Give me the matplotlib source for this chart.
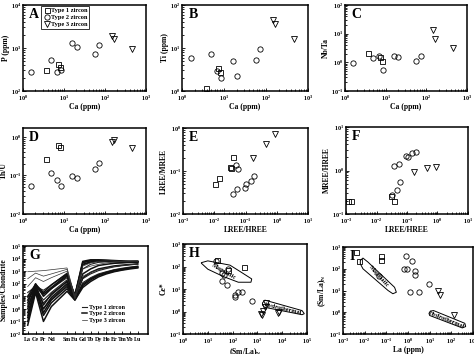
import matplotlib
matplotlib.use('Agg')
import matplotlib.pyplot as plt
from matplotlib.patches import Polygon
from matplotlib.ticker import LogLocator

plt.rcParams['font.family'] = ['Liberation Serif', 'DejaVu Serif']
plt.rcParams['mathtext.fontset'] = 'stix'
plt.rcParams['font.weight'] = 'bold'
plt.rcParams['axes.labelweight'] = 'bold'

# --- data ---
# A-D: Ca (ppm) against P, Ti, Nb/Ta, Th/U
ca_t1 = [3.7, 7.2, 8.0]
ca_t2 = [1.6, 4.8, 6.8, 8.6, 16, 20.5, 57, 73]
ca_t3 = [145, 162, 465]

p_t1 = [316, 427, 357]
p_t2 = [280, 540, 280, 316, 1300, 1035, 725, 1150]
p_t3 = [1930, 1620, 965]

ti_t1 = [1.2, 3.5, 2.7]
ti_t2 = [5.9, 7.3, 2.9, 2.0, 5.0, 2.2, 5.3, 9.6]
ti_t3 = [46, 37, 16.6]

nbta_t1 = [2.2, 1.5, 1.1]
nbta_t2 = [0.95, 1.4, 1.7, 0.55, 1.6, 1.5, 1.15, 1.6]
nbta_t3 = [13.8, 6.3, 3.1]

thu_t1 = [0.26, 0.61, 0.55]
thu_t2 = [0.054, 0.117, 0.076, 0.054, 0.096, 0.085, 0.15, 0.21]
thu_t3 = [0.74, 0.85, 0.52]

# E: LREE/HREE vs LREE/MREE
e_lh_t1 = [0.0108, 0.0141, 0.032, 0.034, 0.040]
e_lm_t1 = [0.050, 0.069, 0.124, 0.12, 0.21]
e_lh_t2 = [0.040, 0.055, 0.049, 0.057, 0.093, 0.10, 0.155, 0.19]
e_lm_t2 = [0.029, 0.039, 0.14, 0.11, 0.040, 0.050, 0.060, 0.075]
e_lh_t3 = [0.17, 0.46, 0.85]
e_lm_t3 = [0.20, 0.43, 0.74]

# F: LREE/HREE vs MREE/HREE
f_lh_t1 = [0.0012, 0.0015, 0.031, 0.038]
f_mh_t1 = [0.2, 0.2, 0.26, 0.2]
f_lh_t2 = [0.033, 0.048, 0.058, 0.038, 0.055, 0.096, 0.11, 0.15, 0.20]
f_mh_t2 = [0.27, 0.36, 0.55, 1.3, 1.43, 2.2, 2.0, 2.5, 2.6]
f_lh_t3 = [0.17, 0.46, 0.90]
f_mh_t3 = [0.9, 1.15, 1.23]

# G: chondrite-normalised REE patterns
ree_names = ['La', 'Ce', 'Pr', 'Nd', 'Sm', 'Eu', 'Gd', 'Tb', 'Dy', 'Ho', 'Er', 'Tm', 'Yb', 'Lu']
ree_z = [57, 58, 59, 60, 62, 63, 64, 65, 66, 67, 68, 69, 70, 71]
ree_t1 = [
    [2, 40, 5, 20, 200, 9, 1500, 3500, 5000, 5500, 5500, 5000, 5000, 5000],
    [8, 50, 15, 40, 300, 14, 3000, 5000, 6000, 6000, 5500, 5500, 5000, 5000],
    [0.3, 25, 1, 6, 80, 6, 120, 300, 600, 900, 1300, 1700, 2100, 2500],
    [20, 60, 30, 80, 700, 12, 4500, 6500, 7000, 6500, 6000, 5500, 5500, 5200],
    [1.5, 35, 3, 12, 150, 8, 250, 600, 1100, 1600, 2200, 2700, 3200, 3600],
]
ree_t2 = [
    [0.05, 20, 0.1, 1.5, 25, 5, 50, 150, 350, 600, 900, 1200, 1500, 1800],
    [0.2, 60, 0.5, 5, 60, 6, 90, 250, 500, 800, 1200, 1500, 1900, 2300],
    [1, 80, 2, 15, 150, 8, 600, 1500, 2800, 3500, 4200, 4500, 5000, 5500],
    [3, 100, 10, 40, 400, 10, 5000, 7000, 7500, 7000, 6500, 6000, 6000, 6000],
    [5, 70, 15, 50, 500, 12, 6000, 8000, 8000, 7500, 7000, 6500, 6000, 6000],
    [0.5, 40, 1, 8, 100, 7, 300, 800, 1500, 2000, 2600, 3000, 3400, 3800],
    [10, 90, 20, 80, 600, 9, 3500, 5500, 6500, 6500, 6000, 5800, 5500, 5500],
    [0.1, 30, 0.3, 3, 40, 5, 70, 200, 450, 700, 1000, 1300, 1700, 2000],
]
ree_t3 = [
    [900, 1000, 1100, 1300, 1800, 10, 1500, 2500, 3500, 4500, 5500, 6000, 6500, 7000],
    [250, 700, 400, 600, 1400, 8, 2500, 4500, 6000, 6500, 6500, 6000, 6000, 6000],
    [60, 300, 150, 300, 1000, 6, 400, 800, 1300, 1800, 2300, 2800, 3300, 3500],
]

# H: (Sm/La)N vs Ce*
h_sl_t1 = [24, 66, 295]
h_ce_t1 = [190, 71, 98]
h_sl_t2 = [22, 36, 46, 66, 36, 57, 124, 124, 170, 245, 590]
h_ce_t2 = [178, 50, 43, 76, 22, 14.5, 5.5, 4.3, 7.4, 7.4, 2.8]
h_sl_t3 = [1400, 1550, 1700, 2000, 2300, 6600, 7500]
h_ce_t3 = [0.8, 0.7, 1.1, 1.6, 2.3, 0.85, 1.0]
h_mag_x = [5.5, 10, 78, 200, 590, 550, 170, 42, 10, 5.5]
h_mag_y = [148, 178, 115, 60, 28, 20, 20, 36, 76, 140]
h_hyd_x = [1600, 2000, 63000, 78000, 63000, 1900, 1600]
h_hyd_y = [2.4, 3.2, 1.1, 0.8, 0.72, 1.55, 2.0]

# I: La (ppm) vs (Sm/La)N
i_la_t1 = [0.0041, 0.0055, 0.055, 0.055]
i_sl_t1 = [590, 218, 370, 263]
i_la_t2 = [0.046, 0.83, 1.58, 0.63, 0.89, 2.0, 2.0, 1.3, 3.2, 8.9]
i_sl_t2 = [45, 370, 225, 100, 100, 76, 49, 8.3, 8.9, 20]
i_la_t3 = [24, 29, 126]
i_sl_t3 = [9.3, 5.9, 0.78]
i_mag_x = [0.0063, 0.0083, 0.014, 0.24, 0.29, 0.20, 0.12, 0.0083, 0.0063]
i_mag_y = [240, 310, 205, 14, 8.3, 7.1, 10, 100, 170]
i_hyd_x = [10.7, 15, 420, 460, 320, 10, 9.3]
i_hyd_y = [1.12, 1.2, 0.31, 0.22, 0.19, 0.71, 0.89]

W, H = 474, 354
fig = plt.figure(figsize=(W / 100, H / 100), dpi=100)


def panel(box, xlim, ylim, letter, xlabel, ylabel, xlog=True):
    l, t, r, b = box
    ax = fig.add_axes([l / W, 1 - b / H, (r - l) / W, (b - t) / H])
    if xlog:
        ax.set_xscale('log')
        ax.xaxis.set_major_locator(LogLocator(base=10, numticks=12))
    ax.set_yscale('log')
    ax.yaxis.set_major_locator(LogLocator(base=10, numticks=12))
    ax.set_xlim(xlim)
    ax.set_ylim(ylim)
    ax.tick_params(which='both', direction='in', labelsize=4.4, pad=1.2, width=0.6)
    ax.tick_params(axis='x', pad=2.0)
    ax.tick_params(which='major', length=2.5)
    ax.tick_params(which='minor', length=1.5)
    for s in ax.spines.values():
        s.set_linewidth(1.1)
    ax.text(0.05, 0.97, letter, transform=ax.transAxes, fontsize=10,
            fontweight='bold', va='top', ha='left')
    ax.set_xlabel(xlabel, fontsize=5.5, labelpad=0.3)
    ax.set_ylabel(ylabel, fontsize=5.5, labelpad=0.5)
    return ax


m1 = dict(marker='s', ls='none', mfc='none', mec='k', ms=3.6, mew=0.6)
m2 = dict(marker='o', ls='none', mfc='none', mec='k', ms=3.8, mew=0.6)
m3 = dict(marker='v', ls='none', mfc='none', mec='k', ms=4.0, mew=0.6)


def scatter3(ax, x1, y1, x2, y2, x3, y3, labels=False):
    ax.plot(x1, y1, label='Type 1 zircon' if labels else None, **m1)
    ax.plot(x2, y2, label='Type 2 zircon' if labels else None, **m2)
    ax.plot(x3, y3, label='Type 3 zircon' if labels else None, **m3)


# row 1
axA = panel((23, 5, 146, 91), (1, 1000), (100, 10000), 'A', 'Ca (ppm)', 'P (ppm)')
scatter3(axA, ca_t1, p_t1, ca_t2, p_t2, ca_t3, p_t3, labels=True)
leg = axA.legend(loc='upper left', bbox_to_anchor=(0.15, 0.99), fontsize=4.6,
                 frameon=True, fancybox=False, borderpad=0.3, labelspacing=0.2,
                 handletextpad=0.2, handlelength=1.0, borderaxespad=0)
leg.get_frame().set_edgecolor('k')
leg.get_frame().set_linewidth(0.7)

axB = panel((182, 5, 308, 91), (1, 1000), (1, 100), 'B', 'Ca (ppm)', 'Ti (ppm)')
scatter3(axB, ca_t1, ti_t1, ca_t2, ti_t2, ca_t3, ti_t3)

axC = panel((345, 5, 467, 91), (1, 1000), (0.1, 100), 'C', 'Ca (ppm)', 'Nb/Ta')
scatter3(axC, ca_t1, nbta_t1, ca_t2, nbta_t2, ca_t3, nbta_t3)

# row 2
axD = panel((23, 128, 146, 214), (1, 1000), (0.01, 1.7), 'D', 'Ca (ppm)', 'Th/U')
scatter3(axD, ca_t1, thu_t1, ca_t2, thu_t2, ca_t3, thu_t3)

axE = panel((183, 128, 308, 214), (0.001, 10), (0.01, 1), 'E', 'LREE/HREE', 'LREE/MREE')
scatter3(axE, e_lh_t1, e_lm_t1, e_lh_t2, e_lm_t2, e_lh_t3, e_lm_t3)

axF = panel((346, 127, 468, 214), (0.001, 10), (0.1, 10), 'F', 'LREE/HREE', 'MREE/HREE')
scatter3(axF, f_lh_t1, f_mh_t1, f_lh_t2, f_mh_t2, f_lh_t3, f_mh_t3)

# row 3
axG = panel((23, 246, 148, 334), (56.4, 72.3), (0.01, 100000), 'G', '', 'Samples/Chondrite', xlog=False)
for i, row in enumerate(ree_t1):
    axG.plot(ree_z, row, color='#222222', lw=0.8, label='Type 1 zircon' if i == 0 else None)
for i, row in enumerate(ree_t2):
    axG.plot(ree_z, row, color='#111111', lw=1.1, label='Type 2 zircon' if i == 0 else None)
for i, row in enumerate(ree_t3):
    axG.plot(ree_z, row, color='#333333', lw=0.5, label='Type 3 zircon' if i == 0 else None)
axG.set_xticks(ree_z)
axG.set_xticklabels(ree_names, fontsize=4.3)
axG.tick_params(axis='x', pad=2.5)
axG.legend(loc='lower left', bbox_to_anchor=(0.45, 0.1), fontsize=4.5, frameon=False,
           handlelength=0.8, handletextpad=0.4, labelspacing=0.15, borderaxespad=0)

axH = panel((183, 244, 307, 334), (1, 100000), (0.1, 1000), 'H',
            '(Sm/La)$_\\mathregular{N}$', 'Ce*')
axH.add_patch(Polygon(list(zip(h_mag_x, h_mag_y)), closed=True, fill=False, ec='k', lw=0.7))
axH.add_patch(Polygon(list(zip(h_hyd_x, h_hyd_y)), closed=True, fill=False, ec='k', lw=0.7))
axH.text(45, 60, 'Magmatic', fontsize=4.5, rotation=-30, ha='center', va='center')
axH.text(11000, 1.3, 'Hydrothermal', fontsize=4.5, rotation=-13, ha='center', va='center')
scatter3(axH, h_sl_t1, h_ce_t1, h_sl_t2, h_ce_t2, h_sl_t3, h_ce_t3)

axI = panel((343, 247, 473, 334), (0.001, 1000), (0.1, 1000), 'I',
            'La (ppm)', '(Sm/La)$_\\mathregular{N}$')
axI.add_patch(Polygon(list(zip(i_mag_x, i_mag_y)), closed=True, fill=False, ec='k', lw=0.7))
axI.add_patch(Polygon(list(zip(i_hyd_x, i_hyd_y)), closed=True, fill=False, ec='k', lw=0.7))
axI.text(0.045, 45, 'Magmatic', fontsize=4.5, rotation=-48, ha='center', va='center')
axI.text(60, 0.45, 'Hydrothermal', fontsize=4.5, rotation=-22, ha='center', va='center')
scatter3(axI, i_la_t1, i_sl_t1, i_la_t2, i_sl_t2, i_la_t3, i_sl_t3)

fig.savefig('out.png', dpi=100)
